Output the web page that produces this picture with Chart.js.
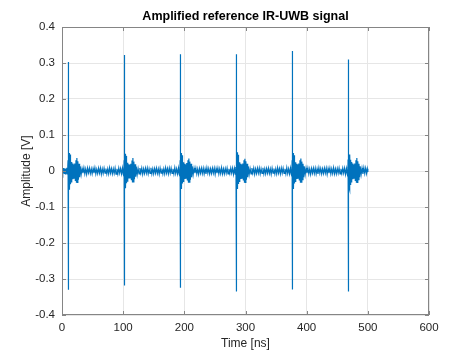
<!DOCTYPE html>
<html>
<head>
<meta charset="utf-8">
<script src="https://cdn.jsdelivr.net/npm/chart.js@4.4.1/dist/chart.umd.min.js"></script>
<style>
html,body{margin:0;padding:0;background:#fff;}
#wrap{width:474px;height:355px;position:relative;}
</style>
</head>
<body>
<div id="wrap"><canvas id="c" width="474" height="355"></canvas></div>
<script>
// Chart texts
const chartTitle = "Amplified reference IR-UWB signal";
const xTitle = "Time [ns]";
const yTitle = "Amplitude [V]";
const xTicks = [0, 100, 200, 300, 400, 500, 600];
const yTicks = [-0.4, -0.3, -0.2, -0.1, 0, 0.1, 0.2, 0.3, 0.4];

// Signal [time ns, amplitude V], one array per pulse period
const seg1 = [[0,0.003],[0.8,-0.006],[1.6,0.008],[2.4,-0.005],[3.2,0.008],[4.0,-0.007],[4.8,0.006],[5.6,-0.008],[6.4,0.007],[7.2,-0.006],[8.0,0.009],[8.8,-0.008],[9.5,0.014],[9.9,0.03],[10.1,-0.09],[10.2,0.303],[10.3,-0.33],[10.4,0.13],[10.5,-0.14],[10.65,0.09],[10.8,-0.08],[11.0,0.062],[11.2,-0.056],[11.5,0.05],[11.8,-0.046],[12.2,0.043],[12.6,-0.052],[13.1,0.046],[13.6,-0.037],[14.2,0.031],[14.8,-0.03],[15.5,0.025],[16.3,-0.026],[17.1,0.021],[17.9,-0.023],[18.8,0.018],[19.8,-0.02],[20.8,0.021],[21.8,-0.026],[22.8,0.03],[23.6,-0.031],[24.3,0.036],[25.1,-0.032],[25.9,0.027],[26.8,-0.024],[27.8,0.02],[28.8,-0.017],[29.8,0.013],[31.3,-0.010],[32.8,0.007],[34.3,-0.006],[35.8,0.009],[37.3,-0.008],[38.8,0.006],[40.3,-0.009],[41.8,0.008],[43.3,-0.005],[44.8,0.008],[46.3,-0.007],[47.8,0.006],[49.3,-0.008],[50.8,0.007],[52.3,-0.006],[53.8,0.009],[55.3,-0.008],[56.8,0.005],[58.3,-0.007],[59.8,0.008],[61.3,-0.006],[62.8,0.008],[64.3,-0.009],[65.8,0.006],[67.3,-0.007],[68.8,0.008],[70.3,-0.006],[71.8,0.007],[73.3,-0.008],[74.8,0.006],[76.3,-0.008],[77.8,0.009],[79.3,-0.006],[80.8,0.007],[82.3,-0.008],[83.8,0.006],[85.3,-0.007],[86.8,0.008],[88.3,-0.009],[89.8,0.006],[91.3,-0.008],[92.8,0.008],[94.3,-0.006],[95.8,0.007],[97.3,-0.008],[98.8,0.008],[100.0,-0.009]];
const seg2 = [[100.7,0.010],[101.3,-0.013],[101.6,0.03],[101.75,-0.08],[101.8,0.322],[101.9,-0.318],[102.0,0.12],[102.1,-0.13],[102.25,0.085],[102.4,-0.075],[102.6,0.058],[102.8,-0.052],[103.1,0.048],[103.4,-0.044],[103.8,0.04],[104.2,-0.048],[104.7,0.042],[105.2,-0.034],[105.8,0.028],[106.4,-0.028],[107.1,0.023],[107.9,-0.024],[108.7,0.019],[109.5,-0.021],[110.4,0.017],[111.4,-0.019],[112.4,0.02],[113.4,-0.024],[114.4,0.029],[115.2,-0.03],[115.9,0.036],[116.7,-0.03],[117.5,0.026],[118.4,-0.023],[119.4,0.019],[120.4,-0.016],[121.4,0.012],[122.9,-0.010],[124.4,0.007],[125.9,-0.008],[127.4,0.008],[128.9,-0.006],[130.4,0.008],[131.9,-0.009],[133.4,0.006],[134.9,-0.007],[136.4,0.008],[137.9,-0.006],[139.4,0.008],[140.9,-0.008],[142.4,0.006],[143.9,-0.007],[145.4,0.009],[146.9,-0.008],[148.4,0.006],[149.9,-0.008],[151.4,0.007],[152.9,-0.006],[154.4,0.008],[155.9,-0.007],[157.4,0.006],[158.9,-0.009],[160.4,0.008],[161.9,-0.006],[163.4,0.007],[164.9,-0.008],[166.4,0.006],[167.9,-0.008],[169.4,0.009],[170.9,-0.006],[172.4,0.007],[173.9,-0.008],[175.4,0.008],[176.9,-0.006],[178.4,0.008],[179.9,-0.007],[181.4,0.006],[182.9,-0.008],[184.4,0.009],[185.9,-0.007],[187.4,0.006],[188.9,-0.008],[190.4,0.008],[191.6,-0.009]];
const seg3 = [[192.5,0.011],[192.9,-0.014],[193.1,0.03],[193.25,-0.085],[193.3,0.324],[193.4,-0.324],[193.5,0.125],[193.6,-0.135],[193.75,0.088],[193.9,-0.078],[194.1,0.06],[194.3,-0.054],[194.6,0.05],[194.9,-0.045],[195.3,0.041],[195.7,-0.05],[196.2,0.044],[196.7,-0.035],[197.3,0.03],[197.9,-0.029],[198.6,0.024],[199.4,-0.025],[200.2,0.02],[201.0,-0.022],[201.9,0.018],[202.9,-0.02],[203.9,0.022],[204.9,-0.025],[205.9,0.03],[206.7,-0.031],[207.4,0.035],[208.2,-0.031],[209.0,0.026],[209.9,-0.024],[210.9,0.02],[211.9,-0.017],[212.9,0.013],[214.4,-0.010],[215.9,0.008],[217.4,-0.006],[218.9,0.008],[220.4,-0.008],[221.9,0.006],[223.4,-0.009],[224.9,0.007],[226.4,-0.006],[227.9,0.008],[229.4,-0.007],[230.9,0.008],[232.4,-0.008],[233.9,0.006],[235.4,-0.008],[236.9,0.009],[238.4,-0.006],[239.9,0.007],[241.4,-0.008],[242.9,0.006],[244.4,-0.007],[245.9,0.008],[247.4,-0.006],[248.9,0.008],[250.4,-0.009],[251.9,0.007],[253.4,-0.006],[254.9,0.008],[256.4,-0.008],[257.9,0.006],[259.4,-0.007],[260.9,0.009],[262.4,-0.008],[263.9,0.006],[265.4,-0.008],[266.9,0.007],[268.4,-0.006],[269.9,0.008],[271.4,-0.008],[272.9,0.006],[274.4,-0.007],[275.9,0.008],[277.4,-0.006],[278.9,0.008],[280.4,-0.009],[281.9,0.007],[283.2,-0.009]];
const seg4 = [[284.1,0.011],[284.5,-0.014],[284.7,0.032],[284.85,-0.09],[284.9,0.324],[285.0,-0.335],[285.1,0.13],[285.2,-0.14],[285.35,0.09],[285.5,-0.08],[285.7,0.06],[285.9,-0.055],[286.2,0.052],[286.5,-0.046],[286.9,0.042],[287.3,-0.05],[287.8,0.045],[288.3,-0.036],[288.9,0.03],[289.5,-0.029],[290.2,0.024],[291.0,-0.025],[291.8,0.02],[292.6,-0.022],[293.5,0.018],[294.5,-0.02],[295.5,0.021],[296.5,-0.025],[297.5,0.03],[298.3,-0.031],[299.0,0.034],[299.8,-0.032],[300.6,0.027],[301.5,-0.024],[302.5,0.02],[303.5,-0.017],[304.5,0.013],[306.0,-0.010],[307.5,0.007],[309.0,-0.008],[310.5,0.008],[312.0,-0.006],[313.5,0.008],[315.0,-0.009],[316.5,0.006],[318.0,-0.007],[319.5,0.008],[321.0,-0.006],[322.5,0.008],[324.0,-0.008],[325.5,0.006],[327.0,-0.007],[328.5,0.009],[330.0,-0.008],[331.5,0.006],[333.0,-0.008],[334.5,0.007],[336.0,-0.006],[337.5,0.008],[339.0,-0.007],[340.5,0.006],[342.0,-0.009],[343.5,0.008],[345.0,-0.006],[346.5,0.007],[348.0,-0.008],[349.5,0.006],[351.0,-0.008],[352.5,0.009],[354.0,-0.006],[355.5,0.007],[357.0,-0.008],[358.5,0.008],[360.0,-0.006],[361.5,0.008],[363.0,-0.007],[364.5,0.006],[366.0,-0.008],[367.5,0.009],[369.0,-0.007],[370.5,0.006],[372.0,-0.008],[373.5,0.008],[374.8,-0.009]];
const seg5 = [[375.6,0.011],[376.0,-0.014],[376.2,0.03],[376.35,-0.085],[376.4,0.333],[376.5,-0.329],[376.6,0.125],[376.7,-0.135],[376.85,0.087],[377.0,-0.078],[377.2,0.06],[377.4,-0.054],[377.7,0.05],[378.0,-0.045],[378.4,0.041],[378.8,-0.05],[379.3,0.044],[379.8,-0.035],[380.4,0.03],[381.0,-0.029],[381.7,0.024],[382.5,-0.025],[383.3,0.02],[384.1,-0.022],[385.0,0.018],[386.0,-0.02],[387.0,0.021],[388.0,-0.025],[389.0,0.03],[389.8,-0.031],[390.5,0.035],[391.3,-0.031],[392.1,0.026],[393.0,-0.024],[394.0,0.02],[395.0,-0.017],[396.0,0.013],[397.5,-0.010],[399.0,0.008],[400.5,-0.006],[402.0,0.008],[403.5,-0.008],[405.0,0.006],[406.5,-0.009],[408.0,0.007],[409.5,-0.006],[411.0,0.008],[412.5,-0.007],[414.0,0.008],[415.5,-0.008],[417.0,0.006],[418.5,-0.008],[420.0,0.009],[421.5,-0.006],[423.0,0.007],[424.5,-0.008],[426.0,0.006],[427.5,-0.007],[429.0,0.008],[430.5,-0.006],[432.0,0.008],[433.5,-0.009],[435.0,0.007],[436.5,-0.006],[438.0,0.008],[439.5,-0.008],[441.0,0.006],[442.5,-0.007],[444.0,0.009],[445.5,-0.008],[447.0,0.006],[448.5,-0.008],[450.0,0.007],[451.5,-0.006],[453.0,0.008],[454.5,-0.008],[456.0,0.006],[457.5,-0.007],[459.0,0.008],[460.5,-0.006],[462.0,0.008],[463.5,-0.009],[465.0,0.007],[466.3,-0.009]];
const seg6 = [[467.1,0.012],[467.5,-0.015],[467.7,0.032],[467.85,-0.09],[467.9,0.31],[468.0,-0.335],[468.1,0.13],[468.2,-0.14],[468.35,0.09],[468.5,-0.08],[468.7,0.062],[468.9,-0.056],[469.2,0.05],[469.5,-0.046],[469.9,0.043],[470.3,-0.052],[470.8,0.046],[471.3,-0.037],[471.9,0.031],[472.5,-0.03],[473.2,0.025],[474.0,-0.026],[474.8,0.021],[475.6,-0.023],[476.5,0.018],[477.5,-0.02],[478.5,0.021],[479.5,-0.026],[480.5,0.03],[481.3,-0.031],[482.0,0.036],[482.8,-0.032],[483.6,0.027],[484.5,-0.024],[485.5,0.02],[486.5,-0.017],[487.5,0.013],[489.0,-0.010],[490.5,0.008],[492.0,-0.008],[493.5,0.009],[495.0,-0.007],[496.5,0.008],[498.0,-0.007],[499.2,0.006],[500.0,-0.003]];

const signal = [].concat(seg1, seg2, seg3, seg4, seg5, seg6).map(p => ({x: p[0], y: p[1]}));

const FONT = "'Liberation Sans', Arial, Helvetica, sans-serif";
const TEXT = '#262626';
const FRAME = '#858585';

const framePlugin = {
  id: 'matlabFrame',
  afterDraw(chart) {
    const ctx = chart.ctx, a = chart.chartArea;
    const xs = chart.scales.x, ys = chart.scales.y;
    ctx.save();
    ctx.strokeStyle = FRAME;
    ctx.lineWidth = 1;
    ctx.strokeRect(Math.round(a.left) + 0.5, Math.round(a.top) + 0.5, Math.round(a.right - a.left) - 1, Math.round(a.bottom - a.top) - 1);
    const tl = 4;
    ctx.beginPath();
    xTicks.forEach(v => {
      const px = Math.round(xs.getPixelForValue(v)) + 0.5;
      ctx.moveTo(px, a.bottom); ctx.lineTo(px, a.bottom - tl);
      ctx.moveTo(px, a.top); ctx.lineTo(px, a.top + tl);
    });
    yTicks.forEach(v => {
      const py = Math.round(ys.getPixelForValue(v)) + 0.5;
      ctx.moveTo(a.left, py); ctx.lineTo(a.left + tl, py);
      ctx.moveTo(a.right, py); ctx.lineTo(a.right - tl, py);
    });
    ctx.stroke();
    // texts
    ctx.fillStyle = '#000';
    ctx.font = 'bold 12.5px ' + FONT;
    ctx.textAlign = 'center';
    ctx.textBaseline = 'middle';
    const cx = (a.left + a.right) / 2;
    ctx.fillText(chartTitle, cx, 17);
    ctx.fillStyle = TEXT;
    ctx.font = '12px ' + FONT;
    ctx.fillText(xTitle, cx, 344);
    ctx.translate(27, (a.top + a.bottom) / 2);
    ctx.rotate(-Math.PI / 2);
    ctx.fillText(yTitle, 0, 0);
    ctx.restore();
  }
};

new Chart(document.getElementById('c'), {
  type: 'line',
  data: {
    datasets: [{
      data: signal,
      borderColor: '#0072BD',
      borderWidth: 1.2,
      pointRadius: 0,
      tension: 0,
      fill: false
    }]
  },
  options: {
    responsive: false,
    animation: false,
    events: [],
    layout: { padding: { top: 27, right: 45, left: 0, bottom: 0 } },
    plugins: { legend: { display: false }, title: { display: false }, tooltip: { enabled: false } },
    scales: {
      x: {
        type: 'linear', min: 0, max: 600,
        afterBuildTicks: s => { s.ticks = xTicks.map(v => ({ value: v })); },
        afterFit: s => { s.height = 40; },
        grid: { color: '#e6e6e6', drawTicks: false },
        border: { display: false },
        ticks: { color: TEXT, font: { family: FONT, size: 11.5 }, padding: 6, maxRotation: 0 }
      },
      y: {
        type: 'linear', min: -0.4, max: 0.4,
        afterBuildTicks: s => { s.ticks = yTicks.map(v => ({ value: v })); },
        afterFit: s => { s.width = 62; },
        grid: { color: '#e6e6e6', drawTicks: false },
        border: { display: false },
        ticks: { color: TEXT, font: { family: FONT, size: 11.5 }, padding: 7,
          callback: v => String(Math.round(v * 10) / 10) }
      }
    }
  },
  plugins: [framePlugin]
});
</script>
</body>
</html>
